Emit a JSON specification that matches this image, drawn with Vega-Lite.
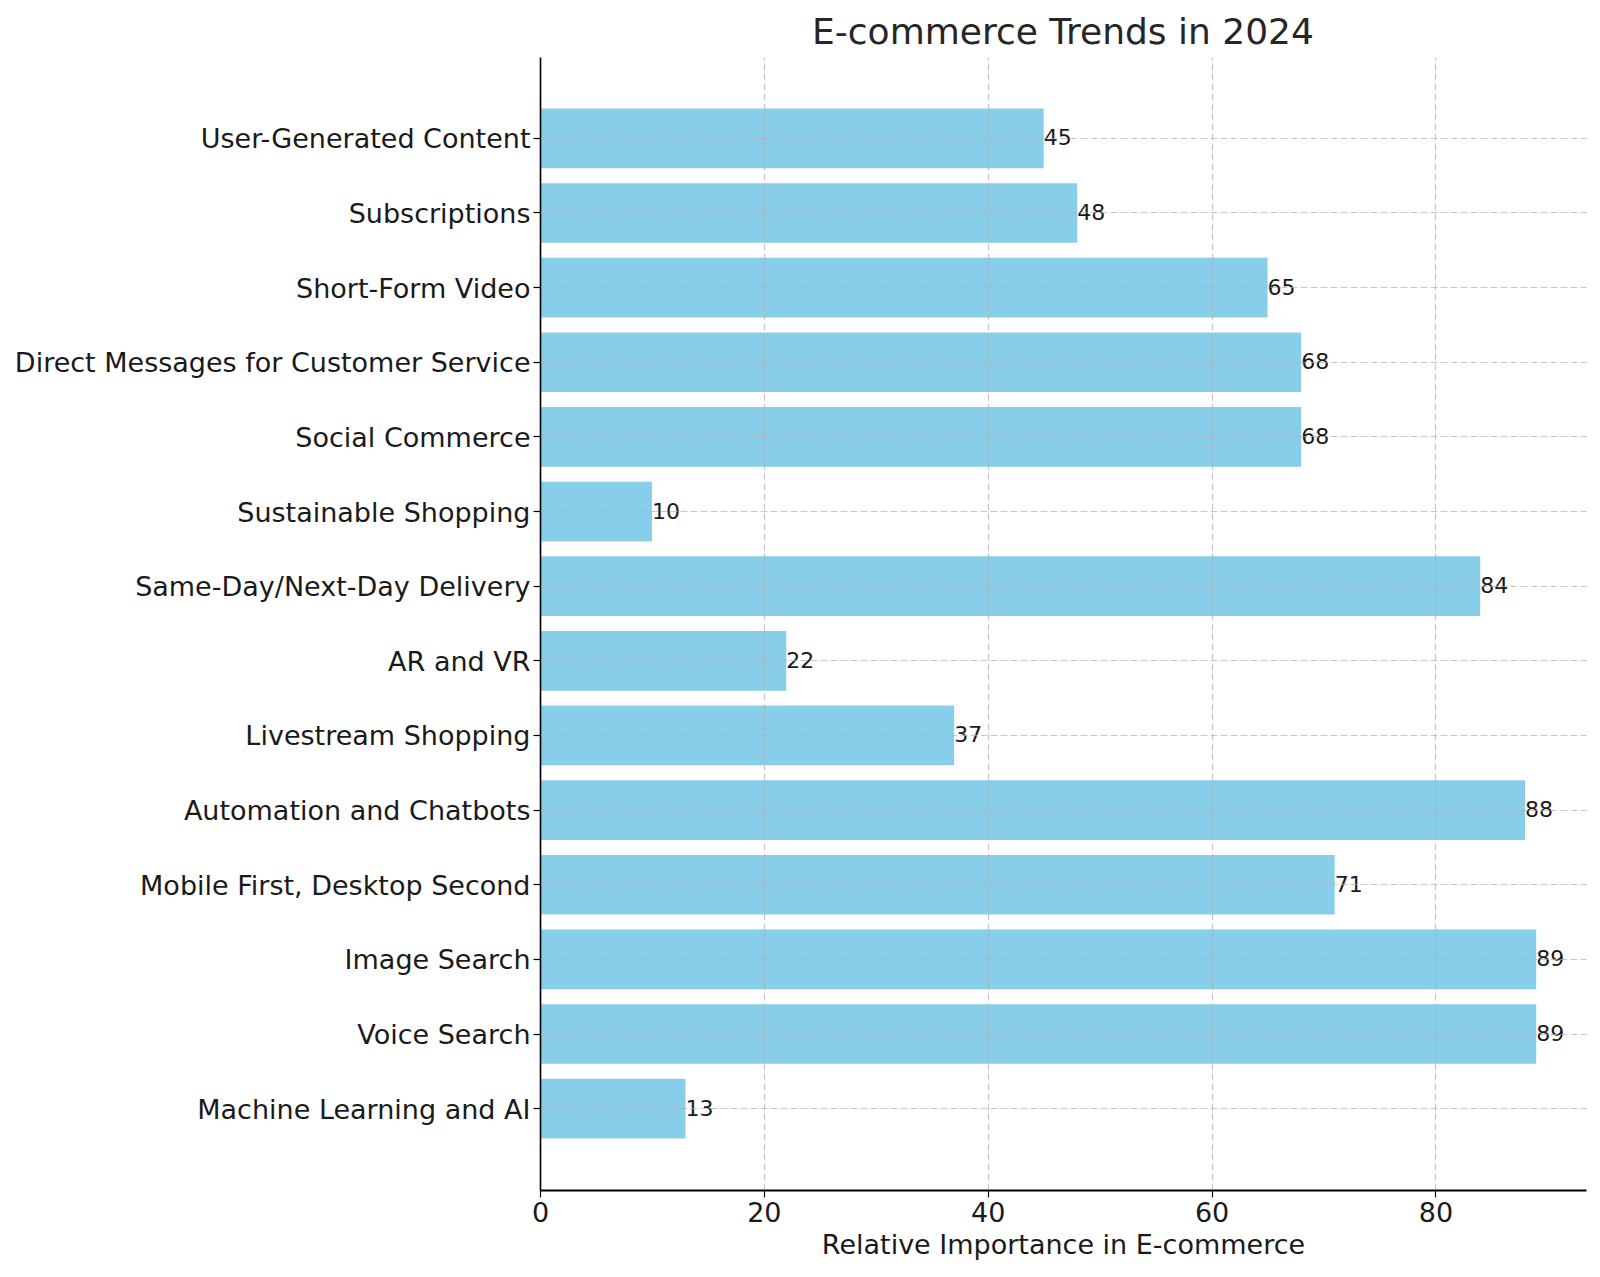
{
  "$schema": "https://vega.github.io/schema/vega-lite/v6.json",
  "autosize": "none",
  "width": 1046,
  "height": 1133,
  "padding": {"left": 540, "top": 57, "right": 14, "bottom": 87},
  "background": "white",
  "config": {
    "view": {"stroke": null},
    "font": "DejaVu Sans",
    "text": {"font": "DejaVu Sans"}
  },
  "title": {
    "text": "E-commerce Trends in 2024",
    "font": "DejaVu Sans",
    "fontSize": 36,
    "fontWeight": "normal",
    "color": "#262626",
    "anchor": "middle",
    "offset": 5
  },
  "data": {
    "values": [
      {"trend": "User-Generated Content", "importance": 45},
      {"trend": "Subscriptions", "importance": 48},
      {"trend": "Short-Form Video", "importance": 65},
      {"trend": "Direct Messages for Customer Service", "importance": 68},
      {"trend": "Social Commerce", "importance": 68},
      {"trend": "Sustainable Shopping", "importance": 10},
      {"trend": "Same-Day/Next-Day Delivery", "importance": 84},
      {"trend": "AR and VR", "importance": 22},
      {"trend": "Livestream Shopping", "importance": 37},
      {"trend": "Automation and Chatbots", "importance": 88},
      {"trend": "Mobile First, Desktop Second", "importance": 71},
      {"trend": "Image Search", "importance": 89},
      {"trend": "Voice Search", "importance": 89},
      {"trend": "Machine Learning and AI", "importance": 13}
    ]
  },
  "encoding": {
    "y": {
      "field": "trend",
      "type": "nominal",
      "sort": null,
      "scale": {"paddingInner": 0.2, "paddingOuter": 0.69},
      "axis": {
        "title": null,
        "labelFont": "DejaVu Sans",
        "labelFontSize": 27,
        "labelColor": "#1a1a1a",
        "labelPadding": 3,
        "labelOffset": 2,
        "labelLimit": 0,
        "tickSize": 7,
        "tickColor": "#000000",
        "tickWidth": 1.2,
        "domainColor": "#000000",
        "domainWidth": 1.6,
        "grid": true,
        "gridColor": "#b0b0b0",
        "gridOpacity": 0.7,
        "gridDash": [7, 3],
        "gridWidth": 1.2,
        "zindex": 1
      }
    }
  },
  "layer": [
    {
      "mark": {"type": "bar", "color": "#87CEEB"},
      "encoding": {
        "x": {
          "field": "importance",
          "type": "quantitative",
          "scale": {"domain": [0, 93.45], "nice": false, "zero": true},
          "axis": {
            "title": "Relative Importance in E-commerce",
            "titleFont": "DejaVu Sans",
            "titleFontSize": 27,
            "titleFontWeight": "normal",
            "titleColor": "#1a1a1a",
            "titlePadding": 6,
            "values": [0, 20, 40, 60, 80],
            "labelFont": "DejaVu Sans",
            "labelFontSize": 27,
            "labelColor": "#1a1a1a",
            "labelPadding": 3,
            "labelFlush": false,
            "tickSize": 7,
            "tickColor": "#000000",
            "tickWidth": 1.2,
            "domainColor": "#000000",
            "domainWidth": 2,
            "grid": true,
            "gridColor": "#b0b0b0",
            "gridOpacity": 0.7,
            "gridDash": [7, 3],
            "gridWidth": 1.2,
            "zindex": 1
          }
        }
      }
    },
    {
      "mark": {"type": "text", "align": "left", "baseline": "middle", "fontSize": 22, "color": "#1a1a1a", "dx": 0},
      "encoding": {
        "x": {"field": "importance", "type": "quantitative"},
        "text": {"field": "importance", "type": "quantitative"}
      }
    }
  ]
}
